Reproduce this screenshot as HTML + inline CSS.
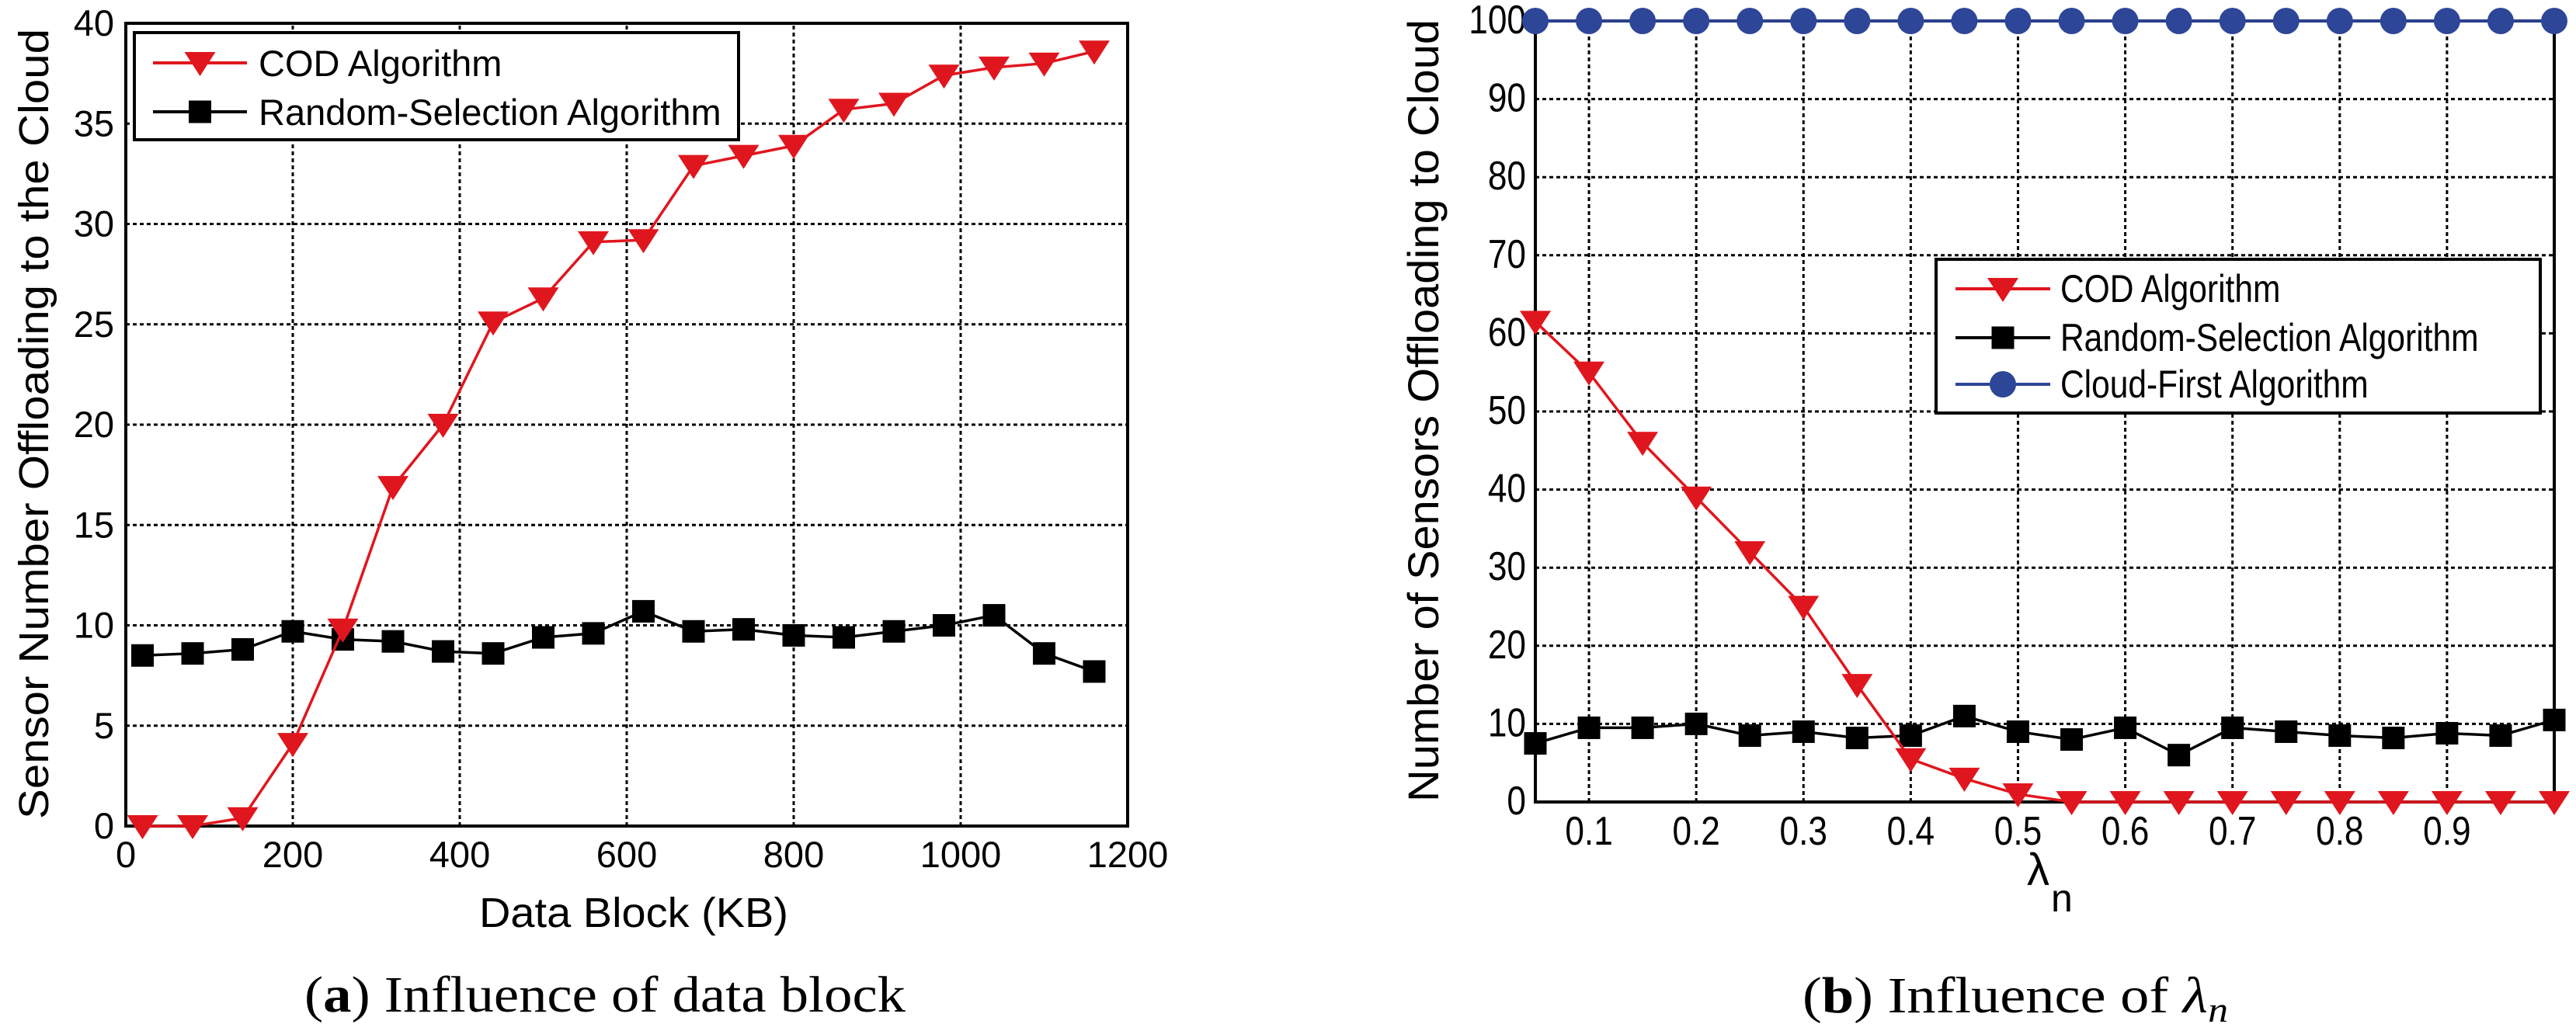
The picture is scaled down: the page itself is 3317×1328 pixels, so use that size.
<!DOCTYPE html>
<html><head><meta charset="utf-8">
<style>
html,body{margin:0;padding:0;background:#fff;}
svg{display:block;}
text{font-family:"Liberation Sans",sans-serif;fill:#000;}
.cap{font-family:"Liberation Serif",serif;}
</style></head>
<body>
<svg id="fig" width="3317" height="1328" viewBox="0 0 3317 1328" xmlns="http://www.w3.org/2000/svg">
<g id="pa"></g>
<g id="pb"></g>
<text class="cap" x="392" y="1303" font-size="66" textLength="774" lengthAdjust="spacingAndGlyphs">(<tspan font-weight="bold">a</tspan>) Influence of data block</text>
<text class="cap" x="2321" y="1304" font-size="66" textLength="548" lengthAdjust="spacingAndGlyphs">(<tspan font-weight="bold">b</tspan>) Influence of <tspan font-style="italic">λ</tspan><tspan font-style="italic" font-size="46" dy="12">n</tspan></text>
</svg>
<script>
// ---- Chart A data ----
const aX = [20,80,140,200,260,320,380,440,500,560,620,680,740,800,860,920,980,1040,1100,1160];
const aCOD = [0,0,0.4,4.1,9.8,16.9,20,25.1,26.3,29.1,29.2,32.9,33.4,33.9,35.7,36,37.4,37.8,38,38.6];
const aRand = [8.5,8.6,8.8,9.7,9.3,9.2,8.7,8.6,9.4,9.6,10.7,9.7,9.8,9.5,9.4,9.7,10.0,10.5,8.6,7.7];
const aXTicks = [0,200,400,600,800,1000,1200];
const aYTicks = [0,5,10,15,20,25,30,35,40];
// ---- Chart B data ----
const bX = [0.05,0.1,0.15,0.2,0.25,0.3,0.35,0.4,0.45,0.5,0.55,0.6,0.65,0.7,0.75,0.8,0.85,0.9,0.95,1.0];
const bCOD = [61.5,55,46,39,32,25,15,5.5,3,1,0,0,0,0,0,0,0,0,0,0];
const bRand = [7.5,9.5,9.5,10,8.5,9,8.2,8.5,11,9,8,9.5,6,9.5,9,8.5,8.2,8.8,8.5,10.5];
const bCloud = [100,100,100,100,100,100,100,100,100,100,100,100,100,100,100,100,100,100,100,100];
const bXTicks = [0.1,0.2,0.3,0.4,0.5,0.6,0.7,0.8,0.9];
const bYTicks = [0,10,20,30,40,50,60,70,80,90,100];

const NS="http://www.w3.org/2000/svg";
const RED="#e0161e", BLUE="#2e4698";
function mk(parent,tag,attrs){const e=document.createElementNS(NS,tag);for(const k in attrs)e.setAttribute(k,attrs[k]);parent.appendChild(e);return e;}
function marker(g,type,cx,cy,color,sz){
  let m;
  if(type==='tri'){const w=sz.w/2,h=sz.h;m=mk(g,'path',{d:`M${cx-w},${cy-h*0.45}L${cx+w},${cy-h*0.45}L${cx},${cy+h*0.55}Z`,fill:color});}
  else if(type==='sq'){m=mk(g,'rect',{x:cx-sz.s/2,y:cy-sz.s/2,width:sz.s,height:sz.s,fill:color});}
  else {m=mk(g,'circle',{cx:cx,cy:cy,r:sz.r,fill:color});}
  return m;
}
function chart(g,o){
  const X=v=>o.x0+(v-o.xmin)/(o.xmax-o.xmin)*(o.x1-o.x0);
  const Y=v=>o.y0-(v-o.ymin)/(o.ymax-o.ymin)*(o.y0-o.y1);
  o.xTicks.forEach(t=>{ if(X(t)>o.x0+2&&X(t)<o.x1-2){const l=mk(g,'line',{x1:X(t),y1:o.y0,x2:X(t),y2:o.y1,stroke:'#000','stroke-width':3,'stroke-dasharray':'5,4'});
    
    }});
  o.yTicks.forEach(t=>{ if(Y(t)<o.y0-2&&Y(t)>o.y1+2){const l=mk(g,'line',{x1:o.x0,y1:Y(t),x2:o.x1,y2:Y(t),stroke:'#000','stroke-width':3,'stroke-dasharray':'5,4'});
    
    }});
  const box=mk(g,'rect',{x:o.x0,y:o.y1,width:o.x1-o.x0,height:o.y0-o.y1,fill:'none',stroke:'#000','stroke-width':4});
  
  
  o.xTicks.forEach(t=>{const tx=mk(g,'text',{'font-size':o.fs,'text-anchor':'middle',transform:`translate(${X(t)},${o.xLabY}) scale(${o.sx},1)`});tx.textContent=o.fmtX(t);
    
    });
  o.yTicks.forEach(t=>{const tx=mk(g,'text',{'font-size':o.fs,'text-anchor':'end',transform:`translate(${o.yLabX},${Y(t)+16}) scale(${o.sx},1)`});tx.textContent=String(t);
    
    });
  o.series.forEach(s=>{
    const sg=mk(g,'g',{});
    
    
    const pts=o.xs.map((x,i)=>X(x)+','+Y(s.vals[i])).join(' ');
    mk(sg,'polyline',{points:pts,fill:'none',stroke:s.color,'stroke-width':3.5});
    o.xs.forEach((x,i)=>{const m=marker(sg,s.type,X(x),Y(s.vals[i]),s.color,s.sz);
      
      });
  });
}
const triSz={w:40,h:31}, sqSz={s:29}, cirSz={r:17};
chart(document.getElementById('pa'),{x0:162,x1:1452,y0:1064,y1:30,xmin:0,xmax:1200,ymin:0,ymax:40,
  xTicks:aXTicks,yTicks:aYTicks,xs:aX,fs:47,sx:1,xLabY:1117,yLabX:147,fmtX:t=>String(t),
  series:[{name:'random-selection-series',vals:aRand,color:'#000',type:'sq',sz:sqSz},
          {name:'cod-series',vals:aCOD,color:RED,type:'tri',sz:triSz}]});
chart(document.getElementById('pb'),{x0:1977,x1:3289,y0:1033,y1:27,xmin:0.05,xmax:1.0,ymin:0,ymax:100,
  xTicks:bXTicks,yTicks:bYTicks,xs:bX,fs:52,sx:0.85,xLabY:1088,yLabX:1965,fmtX:t=>t.toFixed(1),
  series:[{name:'cloud-first-series',vals:bCloud,color:BLUE,type:'cir',sz:cirSz},
          {name:'random-selection-series',vals:bRand,color:'#000',type:'sq',sz:sqSz},
          {name:'cod-series',vals:bCOD,color:RED,type:'tri',sz:triSz}]});

const svg=document.getElementById('fig');
function title(txt,x,y,rot,fs,len,name){
  const t=mk(svg,'text',{x:0,y:0,'font-size':fs,'text-anchor':'middle',transform:`translate(${x},${y}) rotate(${rot})`});
  if(len){t.setAttribute('textLength',len);t.setAttribute('lengthAdjust','spacingAndGlyphs');}
  t.textContent=txt;
  
  
  return t;
}
title('Sensor Number Offloading to the Cloud',62,546,-90,54,1018,'y-axis-title-a');
title('Data Block (KB)',816,1194,0,54,398,'x-axis-title-a');
title('Number of Sensors Offloading to Cloud',1852,529,-90,56,1008,'y-axis-title-b');
const lt=mk(svg,'text',{x:2610,y:1140,'font-size':58});
lt.innerHTML='λ<tspan font-size="50" dx="2" dy="34">n</tspan>';



function legend(box,rows,fs,sx){
  const g=mk(svg,'g',{});
  
  
  mk(g,'rect',{x:box.x,y:box.y,width:box.w,height:box.h,fill:'#fff',stroke:'#000','stroke-width':4});
  rows.forEach(r=>{
    const e=mk(g,'g',{});
    
    
    mk(e,'line',{x1:r.lx0,y1:r.y,x2:r.lx1,y2:r.y,stroke:r.color,'stroke-width':4});
    marker(e,r.type,(r.lx0+r.lx1)/2,r.y,r.color,r.sz);
    const t=mk(e,'text',{'font-size':fs,transform:`translate(${r.tx},${r.y+17}) scale(${sx},1)`});
    t.textContent=r.label;
  });
}
legend({x:173,y:42,w:778,h:138},[
  {y:81,lx0:197,lx1:318,tx:333,color:RED,type:'tri',sz:triSz,label:'COD Algorithm'},
  {y:144,lx0:197,lx1:318,tx:333,color:'#000',type:'sq',sz:sqSz,label:'Random-Selection Algorithm'}],47,1);
legend({x:2493,y:334,w:778,h:198},[
  {y:372,lx0:2518,lx1:2640,tx:2653,color:RED,type:'tri',sz:triSz,label:'COD Algorithm'},
  {y:435,lx0:2518,lx1:2640,tx:2653,color:'#000',type:'sq',sz:sqSz,label:'Random-Selection Algorithm'},
  {y:495,lx0:2518,lx1:2640,tx:2653,color:BLUE,type:'cir',sz:cirSz,label:'Cloud-First Algorithm'}],50,0.85);
</script>
</body></html>
